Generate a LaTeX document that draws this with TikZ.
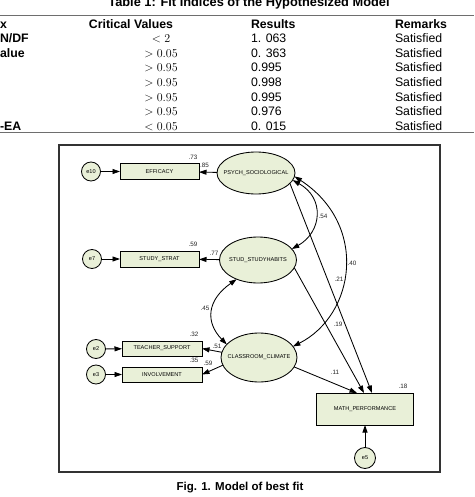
\documentclass[tikz,border=0pt]{standalone}
\usepackage{fontspec}
\setmainfont{Liberation Sans}
\usetikzlibrary{arrows.meta,shapes.geometric}
\definecolor{nodefill}{RGB}{233,240,216}
\definecolor{rulegray}{RGB}{110,110,110}
\begin{document}
\begin{tikzpicture}[x=1pt,y=-1pt,
  every node/.style={inner sep=0pt, outer sep=0pt},
  hdr/.style={font=\fontsize{12.3}{14}\selectfont\bfseries, anchor=base},
  cell/.style={font=\fontsize{12.3}{14}\selectfont, anchor=base west},
  crit/.style={font=\fontsize{12.6}{14}\selectfont, anchor=base},
  obs/.style={draw, fill=nodefill, line width=0.85pt, minimum width=79pt, minimum height=16pt, font=\fontsize{5.6}{6.5}\selectfont},
  lat/.style={draw, ellipse, fill=nodefill, line width=0.85pt, font=\fontsize{5.6}{6.5}\selectfont},
  err/.style={draw, circle, fill=nodefill, line width=0.85pt, minimum size=19pt, font=\fontsize{5.6}{6.5}\selectfont},
  coef/.style={font=\fontsize{6.3}{7}\selectfont, text=black!85},
  regpath/.style={line width=0.85pt, -{Triangle[length=7.5pt,width=5pt]}},
  covpath/.style={line width=0.85pt, {Triangle[length=7.5pt,width=5pt]}-{Triangle[length=7.5pt,width=5pt]}},
]
\useasboundingbox (0,0) rectangle (474,497);
\fill[white] (0,0) rectangle (474,497);

% ---------- Table ----------
\node[font=\fontsize{12.8}{14}\selectfont\bfseries, anchor=base] (title) at (249,6.7) {Table 1: Fit Indices of the Hypothesized Model};
\draw[rulegray, line width=1pt] (0,16) -- (474,16);
\draw[rulegray, line width=1pt] (0,133) -- (474,133);

\node[hdr, anchor=base west] (h0) at (0,28.5) {x};
\node[hdr] (h1) at (131,28.5) {Critical Values};
\node[hdr, anchor=base west] (h2) at (251,28.5) {Results};
\node[hdr, anchor=base west] (h3) at (395,28.5) {Remarks};

\node[hdr, anchor=base west] (i1) at (0,42.8) {N/DF};
\node[hdr, anchor=base west] (i2) at (0,57.4) {alue};
\node[hdr, anchor=base west] (i7) at (0,130.4) {-EA};

\node[crit] (c1) at (161,42.8) {$<2$};
\node[crit] (c2) at (161,57.4) {$>0.05$};
\node[crit] (c3) at (161,72.0) {$>0.95$};
\node[crit] (c4) at (161,86.6) {$>0.95$};
\node[crit] (c5) at (161,101.2) {$>0.95$};
\node[crit] (c6) at (161,115.8) {$>0.95$};
\node[crit] (c7) at (161,130.4) {$<0.05$};

\node[cell] (r1) at (251,42.8) {1. 063};
\node[cell] (r2) at (251,57.4) {0. 363};
\node[cell] (r3) at (251,72.0) {0.995};
\node[cell] (r4) at (251,86.6) {0.998};
\node[cell] (r5) at (251,101.2) {0.995};
\node[cell] (r6) at (251,115.8) {0.976};
\node[cell] (r7) at (251,130.4) {0. 015};

\node[cell] (s1) at (395,42.8) {Satisfied};
\node[cell] (s2) at (395,57.4) {Satisfied};
\node[cell] (s3) at (395,72.0) {Satisfied};
\node[cell] (s4) at (395,86.6) {Satisfied};
\node[cell] (s5) at (395,101.2) {Satisfied};
\node[cell] (s6) at (395,115.8) {Satisfied};
\node[cell] (s7) at (395,130.4) {Satisfied};

% ---------- Figure frame ----------
\draw[black!80, line width=1.1pt] (59,145) rectangle (440,472);

% ---------- Nodes ----------
\node[err] (e10) at (91,171.5) {e10};
\node[obs] (eff) at (159.5,171.5) {EFFICACY};
\node[lat, minimum width=78pt, minimum height=42pt] (psy) at (256,173) {\makebox[0pt]{PSYCH\_SOCIOLOGICAL}};

\node[err] (e7) at (92,259) {e7};
\node[obs] (strat) at (159.5,259) {STUDY\_STRAT};
\node[lat, minimum width=77pt, minimum height=46pt] (stud) at (258,260) {\makebox[0pt]{STUD\_STUDYHABITS}};

\node[err] (e2) at (96,349) {e2};
\node[obs, minimum width=80pt, minimum height=15pt] (ts) at (162,348.5) {TEACHER\_SUPPORT};
\node[err] (e3) at (96,374.5) {e3};
\node[obs, minimum width=80pt, minimum height=15pt] (inv) at (162,374.5) {INVOLVEMENT};
\node[lat, minimum width=76pt, minimum height=49pt] (cls) at (259,357.5) {\makebox[0pt]{CLASSROOM\_CLIMATE}};

\node[obs, minimum width=97pt, minimum height=32pt] (math) at (365,409) {MATH\_PERFORMANCE};
\node[err, minimum size=21pt] (e5) at (365,458) {e5};

% ---------- Regression paths ----------
\draw[regpath] (e10) -- (eff);
\draw[regpath] (psy) -- (eff);
\draw[regpath] (e7) -- (strat);
\draw[regpath] (stud) -- (strat);
\draw[regpath] (e2) -- (ts);
\draw[regpath] (e3) -- (inv);
\draw[regpath] (cls.172) -- (ts.east);
\draw[regpath] (cls.192) -- (inv.east);
\draw[regpath] (psy.-17) -- ([xshift=7pt]math.north);
\draw[regpath] (stud.-12) -- ([xshift=-1pt]math.north);
\draw[regpath] (cls.-15) -- ([xshift=-8pt]math.north);
\draw[regpath] (e5) -- (math);

% ---------- Covariances ----------
\draw[covpath] (psy.-11) .. controls (325,198) and (322,232) .. (stud.18);
\draw[covpath] (psy.-5) .. controls (369,225) and (355,315) .. (cls.18);
\draw[covpath] (stud.222) .. controls (207,300) and (205,322) .. (cls.158);

% ---------- Coefficients ----------
\node[coef] (k73) at (193,157) {.73};
\node[coef] (k85) at (204.5,165) {.85};
\node[coef] (k59a) at (193,244) {.59};
\node[coef] (k77) at (214,253) {.77};
\node[coef] (k54) at (323,216) {.54};
\node[coef] (k40) at (352,263) {.40};
\node[coef] (k21) at (339,279) {.21};
\node[coef] (k19) at (338,324) {.19};
\node[coef] (k45) at (205,308) {.45};
\node[coef] (k32) at (194,334) {.32};
\node[coef] (k35) at (194,360) {.35};
\node[coef] (k51) at (217,346) {.51};
\node[coef] (k59b) at (208,363) {.59};
\node[coef] (k11) at (335,372) {.11};
\node[coef] (k18) at (403,386) {.18};

% ---------- Caption ----------
\node[font=\fontsize{11.5}{13}\selectfont\bfseries, anchor=base] (cap) at (240,490.5) {Fig. 1. Model of best fit};
\end{tikzpicture}
\end{document}
